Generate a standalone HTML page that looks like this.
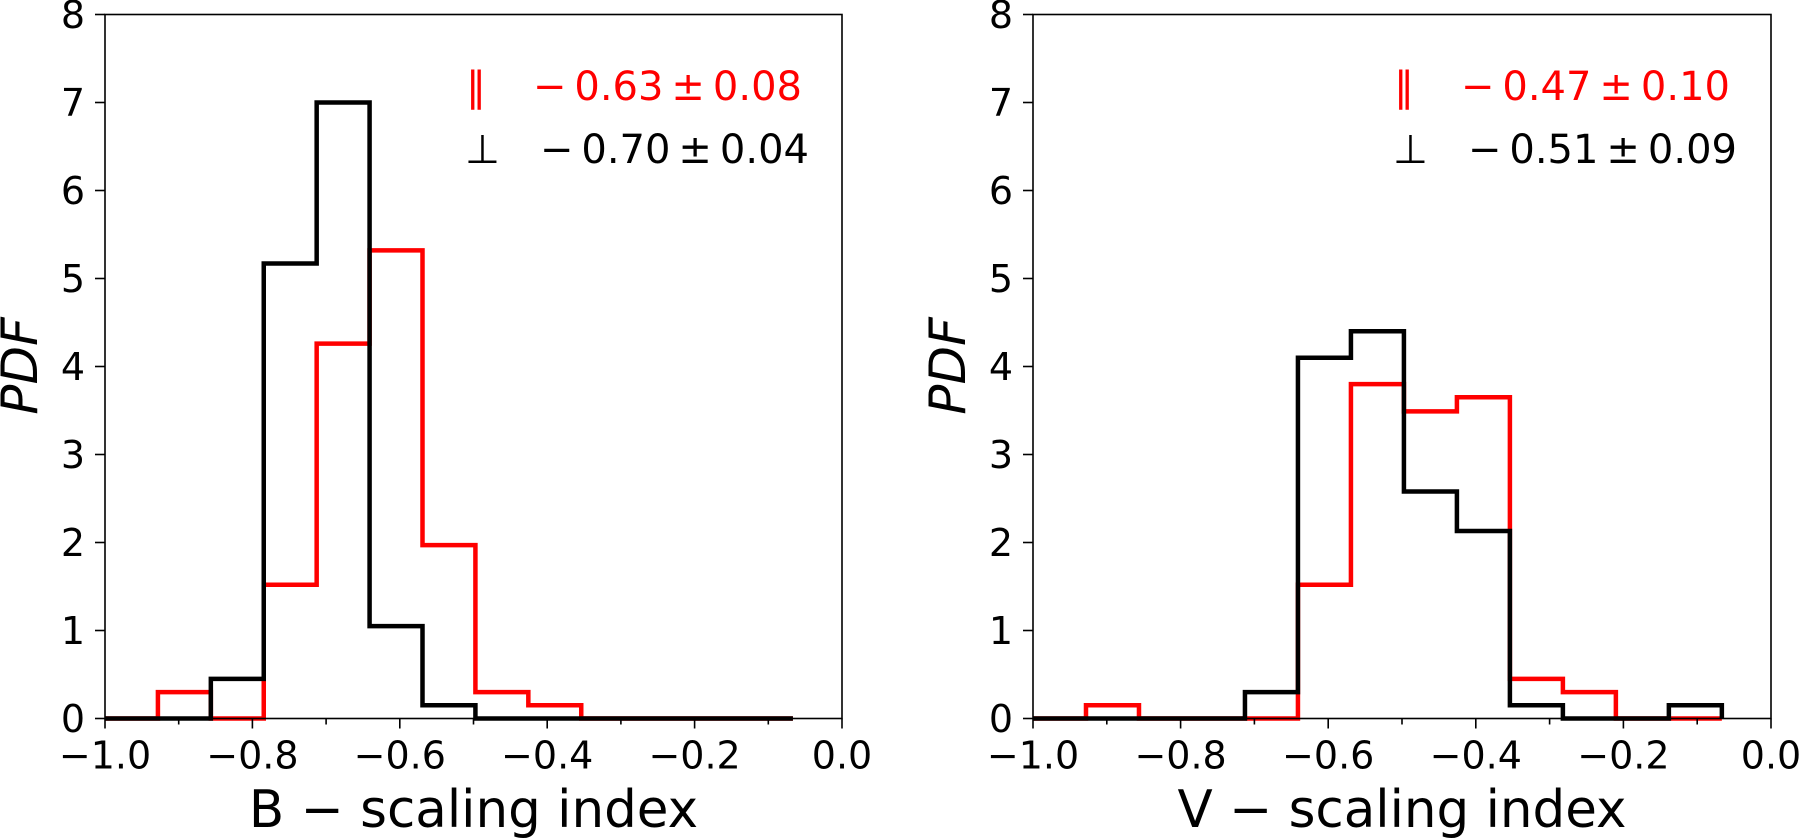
<!DOCTYPE html>
<html><head><meta charset="utf-8"><style>html,body{margin:0;padding:0;background:#fff}svg{display:block}text{font-family:"DejaVu Sans","Liberation Sans",sans-serif}</style></head>
<body>
<svg width="1800" height="838" viewBox="0 0 1800 838" xmlns="http://www.w3.org/2000/svg">
</svg>
<script>
(function(){
const svg=document.querySelector('svg');
const NS='http://www.w3.org/2000/svg';
function el(t,a,txt){const e=document.createElementNS(NS,t);for(const k in a)e.setAttribute(k,a[k]);if(txt!==undefined)e.textContent=txt;svg.appendChild(e);return e;}
const y0=718.5,yu=88.0,top=14.5;
const w=0.0718;
function panel(x0,x1,red,black,lab,rt,bt){
  const sx=v=>x0+(v+1)*(x1-x0);
  const sy=v=>y0-v*yu;
  function hist(h,col){let d='M'+sx(-1)+','+sy(0);for(let i=0;i<h.length;i++){const a=-1+i*w,b=-1+(i+1)*w;d+=' L'+sx(a)+','+sy(h[i])+' L'+sx(b)+','+sy(h[i]);}d+=' L'+sx(-1+h.length*w)+','+sy(0);el('path',{d:d,fill:'none',stroke:col,'stroke-width':4.5,'stroke-linejoin':'miter'});}
  hist(red,'#ff0000');hist(black,'#000');
  el('rect',{x:x0,y:top,width:x1-x0,height:y0-top,fill:'none',stroke:'#000','stroke-width':1.6});
  for(let i=0;i<=8;i++){const y=sy(i);el('line',{x1:x0-10,y1:y,x2:x0,y2:y,stroke:'#000','stroke-width':1.6});el('text',{x:x0-20,y:y+13.5,'text-anchor':'end','font-size':38},String(i));}
  for(let i=0;i<=10;i++){const v=-1+i*0.1,x=sx(v);const maj=i%2==0;el('line',{x1:x,y1:y0,x2:x,y2:y0+(maj?10:6),stroke:'#000','stroke-width':1.6});if(maj){const s=(v<-0.001?'\u2212':'')+Math.abs(v).toFixed(1);el('text',{x:x,y:y0+50,'text-anchor':'middle','font-size':38},s);}}
  el('text',{x:(x0+x1)/2,y:827,'text-anchor':'middle','font-size':51.5},lab+' \u2212 scaling index');
  el('text',{x:0,y:0,'text-anchor':'middle','font-size':50,'font-style':'italic',transform:'translate('+(x0-68)+',366) rotate(-90)'},'PDF');
  const dx=x0-105;
  el('text',{x:466+dx,y:100,'font-size':40,fill:'#ff0000'},'\u2016');
  el('text',{x:802+dx,y:100,'font-size':40,fill:'#ff0000','text-anchor':'end'},rt);
  el('text',{x:465+dx,y:163,'font-size':40,fill:'#000'},'\u22a5');
  el('text',{x:809+dx,y:163,'font-size':40,fill:'#000','text-anchor':'end'},bt);
}
panel(105,842,[0,0.3,0,1.52,4.26,5.32,1.97,0.3,0.15,0,0,0,0],[0,0,0.45,5.17,7.0,1.05,0.15,0,0,0,0,0,0],'B','\u2212\u20090.63\u2009\u00b1\u20090.08','\u2212\u20090.70\u2009\u00b1\u20090.04');
panel(1033,1771,[0,0.15,0,0,0,1.52,3.8,3.49,3.65,0.45,0.3,0,0],[0,0,0,0,0.3,4.1,4.4,2.58,2.13,0.15,0,0,0.15],'V','\u2212\u20090.47\u2009\u00b1\u20090.10','\u2212\u20090.51\u2009\u00b1\u20090.09');
})();
</script>
</body></html>
